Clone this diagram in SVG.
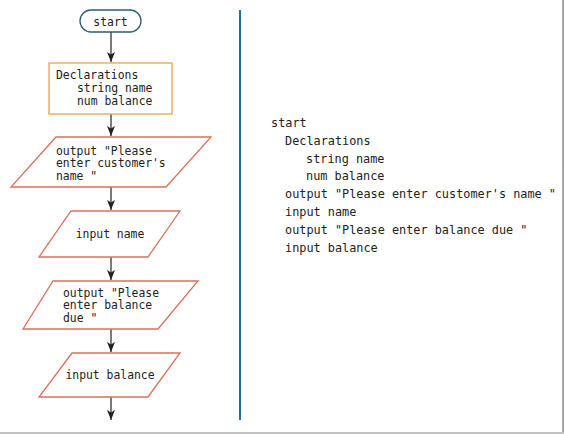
<svg xmlns="http://www.w3.org/2000/svg" width="564" height="434" viewBox="0 0 564 434">
<style>
.t{font-family:"DejaVu Sans Mono","Liberation Mono",monospace;font-size:11.4px;fill:#222}
.r{font-family:"DejaVu Sans Mono","Liberation Mono",monospace;font-size:11.85px;fill:#222}
.io{fill:#fff;stroke:#d9705a;stroke-width:1.3}
.c{stroke:#222;stroke-width:1.2;fill:none;marker-end:url(#ah)}
</style>
<defs>
<marker id="ah" markerWidth="10" markerHeight="8" refX="10" refY="4" orient="auto" markerUnits="userSpaceOnUse" viewBox="0 0 10 8">
<path d="M0,0 L10,4 L0,8 L2.5,4 Z" fill="#222"/>
</marker>
</defs>
<rect x="0" y="0" width="564" height="434" fill="#fff"/>
<rect x="562" y="0" width="2" height="434" fill="#a9a6a3"/>
<rect x="0" y="432" width="564" height="2" fill="#c4c2c0"/>
<line x1="240" y1="10" x2="240" y2="420" stroke="#1f6f93" stroke-width="2"/>
<g id="connectors">
<line class="c" x1="111" y1="32" x2="111" y2="62"/>
<line class="c" x1="111" y1="114" x2="111" y2="136"/>
<line class="c" x1="111" y1="187" x2="111" y2="210"/>
<line class="c" x1="111" y1="257" x2="111" y2="280"/>
<line class="c" x1="111" y1="329" x2="111" y2="352"/>
<line class="c" x1="111" y1="397" x2="111" y2="420"/>
</g>
<g id="start">
<rect x="80" y="10" width="61" height="22" rx="11" fill="#fff" stroke="#2a5d75" stroke-width="1.3"/>
<text class="t" x="110.5" y="25.5" text-anchor="middle">start</text>
</g>
<g id="declarations">
<rect x="49" y="63" width="123" height="51" fill="#fff" stroke="#e8a44a" stroke-width="1.3"/>
<text class="t" x="56" y="79">Declarations</text>
<text class="t" x="77" y="92">string name</text>
<text class="t" x="77" y="104.5">num balance</text>
</g>
<g id="output1">
<polygon class="io" points="56,137 211,137 166,187 11,187"/>
<text class="t" x="56" y="154.5">output "Please</text>
<text class="t" x="56" y="167">enter customer's</text>
<text class="t" x="56" y="179.5">name "</text>
</g>
<g id="input1">
<polygon class="io" points="71,211 180,211 148,257 39,257"/>
<text class="t" x="110" y="238" text-anchor="middle">input name</text>
</g>
<g id="output2">
<polygon class="io" points="53,281 198,281 158,329 23,329"/>
<text class="t" x="63" y="296.5">output "Please</text>
<text class="t" x="63" y="309">enter balance</text>
<text class="t" x="63" y="321.5">due "</text>
</g>
<g id="input2">
<polygon class="io" points="72,353 180,353 148,397 39,397"/>
<text class="t" x="110" y="379" text-anchor="middle">input balance</text>
</g>
<g id="pseudocode">
<text class="r" x="271" y="127">start</text>
<text class="r" x="285" y="145">Declarations</text>
<text class="r" x="306" y="163">string name</text>
<text class="r" x="306" y="180">num balance</text>
<text class="r" x="285" y="198">output "Please enter customer's name "</text>
<text class="r" x="285" y="216">input name</text>
<text class="r" x="285" y="234">output "Please enter balance due "</text>
<text class="r" x="285" y="252">input balance</text>
</g>
</svg>
